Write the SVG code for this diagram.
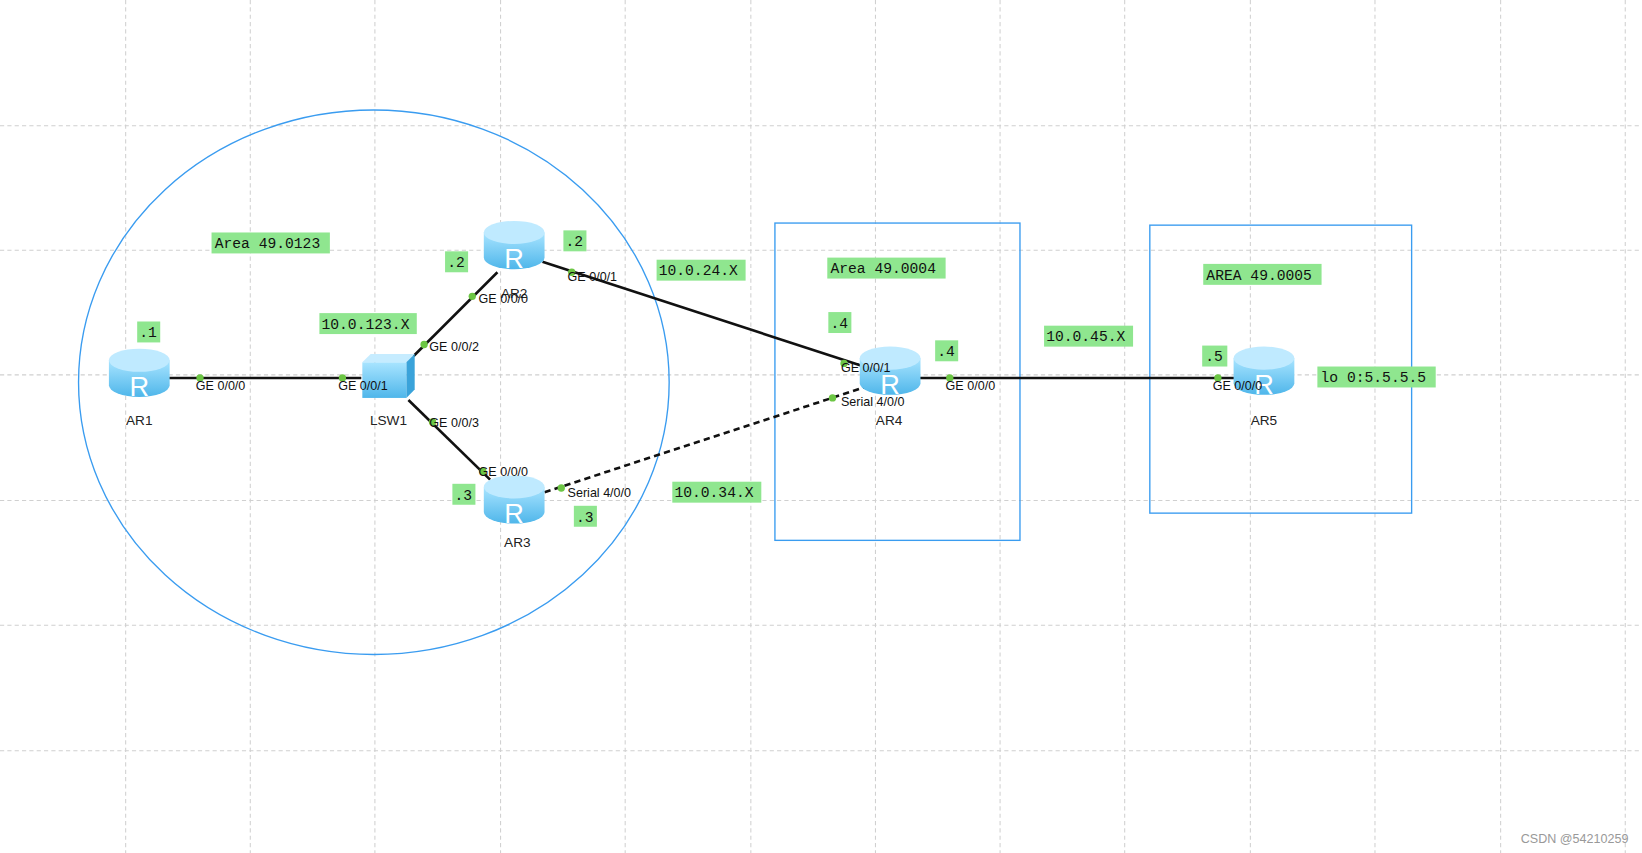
<svg xmlns="http://www.w3.org/2000/svg" width="1642" height="853" viewBox="0 0 1642 853">
<defs>
<linearGradient id="rg" x1="0" y1="0" x2="0" y2="1"><stop offset="0" stop-color="#a8e4ff"/><stop offset="1" stop-color="#4fb6ea"/></linearGradient>
<g id="router">
<path d="M-29,-12 v24 a29,11 0 0 0 58,0 v-24 z" fill="url(#rg)"/>
<ellipse cx="0" cy="-12" rx="29" ry="11" fill="#bfeaff"/>
<text x="0" y="22" text-anchor="middle" font-family="Liberation Sans,sans-serif" font-size="26" fill="#fff">R</text>
</g>
<g id="switch">
<path d="M-25,-14 l8,-8 h42 l-8,8 z" fill="#c6ecff"/>
<path d="M17,-14 l8,-8 v34 l-8,8 z" fill="#3aa3da"/>
<rect x="-25" y="-14" width="42" height="34" fill="url(#rg)"/>
</g>
</defs>
<style>
.grid{stroke:#d0d0d0;stroke-width:1;stroke-dasharray:4 3}
.lbl{font-family:"Liberation Sans",sans-serif;font-size:12px;fill:#111}
.name{font-family:"Liberation Sans",sans-serif;font-size:13px;fill:#222;text-anchor:middle}
.tag{fill:#8fe68f}
.tt{font-family:"Liberation Mono",monospace;font-size:14px;fill:#111}
.dot{fill:#6cc644}
.link{stroke:#111;stroke-width:2.5;fill:none}
</style>
<rect width="1642" height="853" fill="#fff"/>
<g transform="scale(1.0472)">
<g id="grid">
<path class="grid" d="M120,0V815M239,0V815M358,0V815M478,0V815M597,0V815M717,0V815M836,0V815M955,0V815M1074,0V815M1194,0V815M1313,0V815M1433,0V815M1552,0V815M0,120H1568M0,239H1568M0,358H1568M0,478H1568M0,597H1568M0,717H1568"/>
</g>
<g id="areas" fill="none" stroke="#3a9cf0" stroke-width="1.3">
<ellipse cx="357" cy="365" rx="282" ry="260"/>
<rect x="740" y="213" width="234" height="303"/>
<rect x="1098" y="215" width="250" height="275"/>
</g>
<g id="connectors">
<line class="link" x1="160" y1="361" x2="345" y2="361"/>
<line class="link" x1="395" y1="340" x2="475" y2="260"/>
<line class="link" x1="390" y1="382" x2="468" y2="458"/>
<line class="link" x1="518" y1="250" x2="825" y2="350"/>
<line class="link" x1="520" y1="470" x2="825" y2="370" stroke-dasharray="6 4"/>
<line class="link" x1="876" y1="361" x2="1182" y2="361"/>
</g>
<g id="AR1"><use href="#router" x="133" y="356"/><text class="name" x="133" y="406">AR1</text></g>
<g id="LSW1"><use href="#switch" x="371" y="360"/><text class="name" x="371" y="406">LSW1</text></g>
<g id="AR2"><use href="#router" x="491" y="234"/><text class="name" x="491" y="285">AR2</text></g>
<g id="AR3"><use href="#router" x="491" y="477"/><text class="name" x="494" y="522">AR3</text></g>
<g id="AR4"><use href="#router" x="850" y="354"/><text class="name" x="849" y="406">AR4</text></g>
<g id="AR5"><use href="#router" x="1207" y="354"/><text class="name" x="1207" y="406">AR5</text></g>
<g id="ports">
<circle class="dot" cx="191" cy="361" r="3.5"/><circle class="dot" cx="327" cy="361" r="3.5"/>
<circle class="dot" cx="405" cy="329" r="3.5"/><circle class="dot" cx="451" cy="283" r="3.5"/>
<circle class="dot" cx="413" cy="403" r="3.5"/><circle class="dot" cx="461" cy="450" r="3.5"/>
<circle class="dot" cx="546" cy="260" r="3.5"/><circle class="dot" cx="806" cy="347" r="3.5"/>
<circle class="dot" cx="536" cy="466" r="3.5"/><circle class="dot" cx="795" cy="380" r="3.5"/>
<circle class="dot" cx="907" cy="361" r="3.5"/><circle class="dot" cx="1163" cy="361" r="3.5"/>
<text class="lbl" x="187" y="372">GE 0/0/0</text>
<text class="lbl" x="323" y="372">GE 0/0/1</text>
<text class="lbl" x="410" y="335">GE 0/0/2</text>
<text class="lbl" x="457" y="289">GE 0/0/0</text>
<text class="lbl" x="410" y="408">GE 0/0/3</text>
<text class="lbl" x="457" y="455">GE 0/0/0</text>
<text class="lbl" x="542" y="268">GE 0/0/1</text>
<text class="lbl" x="803" y="355">GE 0/0/1</text>
<text class="lbl" x="542" y="475">Serial 4/0/0</text>
<text class="lbl" x="803" y="388">Serial 4/0/0</text>
<text class="lbl" x="903" y="372">GE 0/0/0</text>
<text class="lbl" x="1158" y="372">GE 0/0/0</text>
</g>
<g id="tags">
<rect class="tag" x="202" y="222" width="113" height="20"/><text class="tt" x="205" y="237">Area 49.0123</text>
<rect class="tag" x="305" y="299" width="93" height="20"/><text class="tt" x="307" y="314">10.0.123.X</text>
<rect class="tag" x="131" y="307" width="22" height="20"/><text class="tt" x="133" y="322">.1</text>
<rect class="tag" x="425" y="240" width="22" height="20"/><text class="tt" x="427" y="255">.2</text>
<rect class="tag" x="538" y="220" width="22" height="20"/><text class="tt" x="540" y="235">.2</text>
<rect class="tag" x="432" y="462" width="22" height="20"/><text class="tt" x="434" y="477">.3</text>
<rect class="tag" x="548" y="483" width="22" height="20"/><text class="tt" x="550" y="498">.3</text>
<rect class="tag" x="627" y="248" width="85" height="20"/><text class="tt" x="629" y="263">10.0.24.X</text>
<rect class="tag" x="642" y="460" width="85" height="20"/><text class="tt" x="644" y="475">10.0.34.X</text>
<rect class="tag" x="790" y="246" width="113" height="20"/><text class="tt" x="793" y="261">Area 49.0004</text>
<rect class="tag" x="791" y="298" width="22" height="20"/><text class="tt" x="793" y="313">.4</text>
<rect class="tag" x="893" y="325" width="22" height="20"/><text class="tt" x="895" y="340">.4</text>
<rect class="tag" x="997" y="311" width="85" height="20"/><text class="tt" x="999" y="326">10.0.45.X</text>
<rect class="tag" x="1149" y="252" width="113" height="20"/><text class="tt" x="1152" y="267">AREA 49.0005</text>
<rect class="tag" x="1148" y="330" width="24" height="20"/><text class="tt" x="1151" y="345">.5</text>
<rect class="tag" x="1258" y="350" width="113" height="20"/><text class="tt" x="1261" y="365">lo 0:5.5.5.5</text>
</g>
<text x="1555" y="805" text-anchor="end" font-family="Liberation Sans,sans-serif" font-size="12" fill="#999">CSDN @54210259</text>
</g>
</svg>
